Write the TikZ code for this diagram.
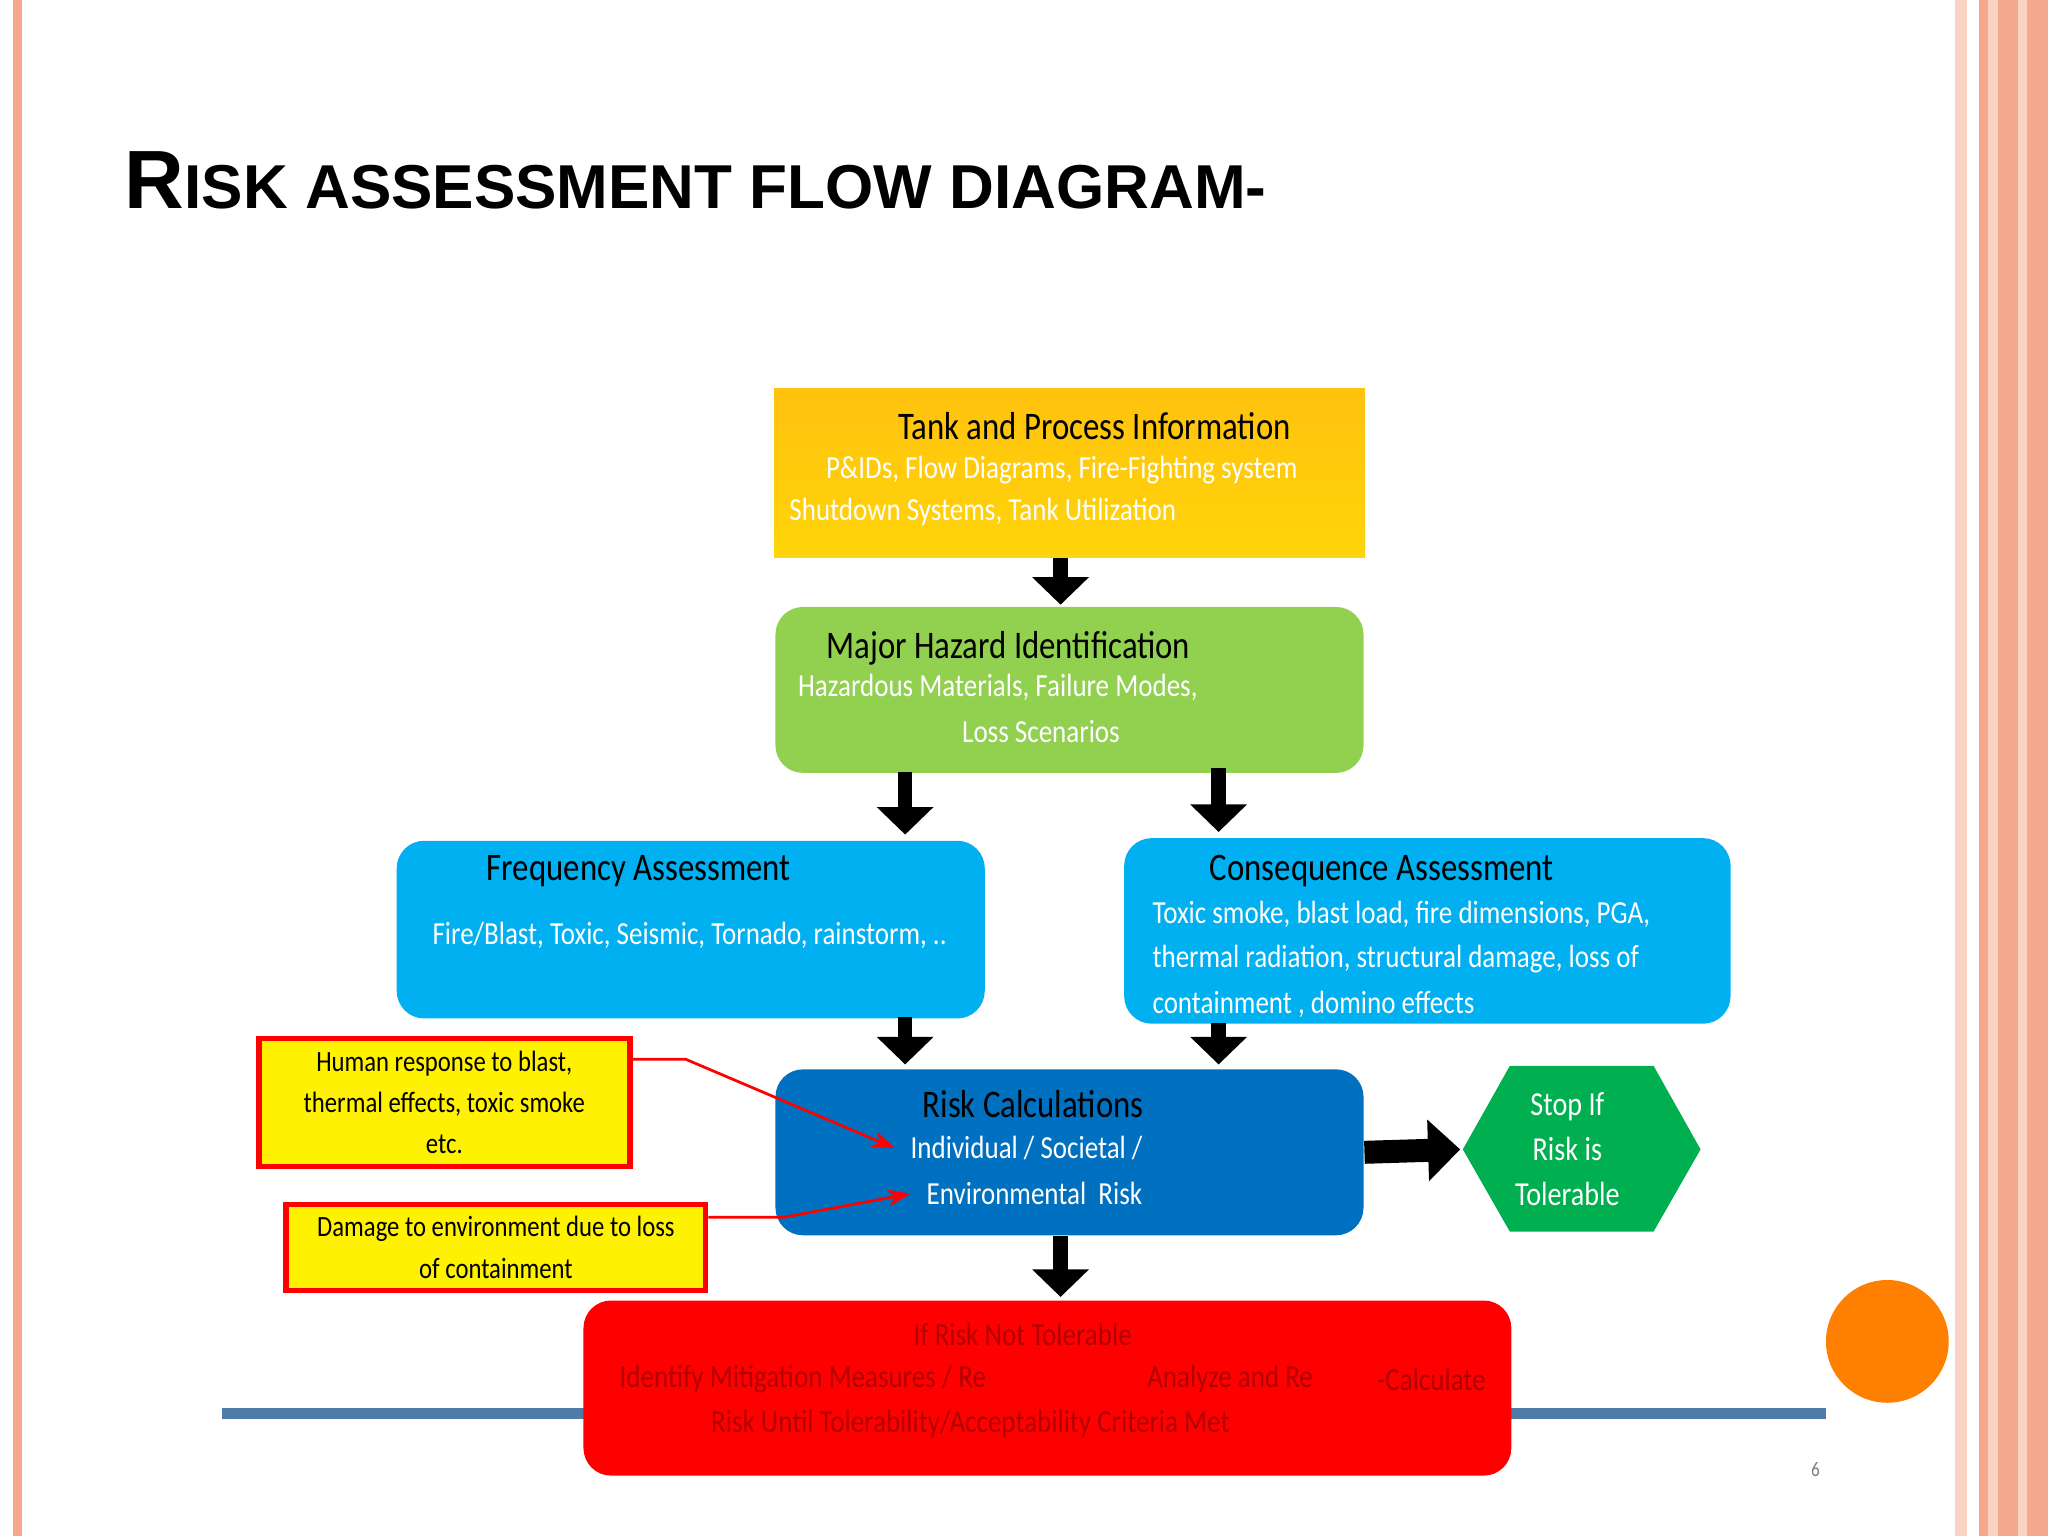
\documentclass[tikz,border=0pt]{standalone}
\usepackage{fontspec}
\setmainfont{Carlito}[FakeStretch=0.84]
\newfontfamily\titlefont{Liberation Sans}
\usetikzlibrary{arrows.meta,shapes.geometric}
\definecolor{salm}{HTML}{F6A88E}
\definecolor{salmlt}{HTML}{FBD3C4}
\definecolor{tankc}{HTML}{FFC20E}
\definecolor{greenc}{HTML}{92D050}
\definecolor{cyanc}{HTML}{00B0F0}
\definecolor{bluec}{HTML}{0070C0}
\definecolor{hexc}{HTML}{00B050}
\definecolor{redt}{HTML}{B00000}
\definecolor{linec}{HTML}{4F7BA8}
\tikzset{
 box/.style={draw=none,rounded corners=6,inner sep=0},
 ttl/.style={font=\fontsize{8.5}{10}\selectfont,text=black},
 wt/.style={font=\fontsize{7}{9.6}\selectfont,text=white,align=left},
 blk/.style={line width=3.2pt,-{Triangle[width=12pt,length=6pt]}},
 ybox/.style={fill=yellow,draw=red,line width=1.2pt,align=center,inner sep=0,font=\fontsize{6.4}{9}\selectfont},
 rarr/.style={red,line width=0.6pt,-{Stealth[length=5pt]}}
}
\begin{document}
\begin{tikzpicture}[x=0.01cm,y=-0.01cm]
\useasboundingbox (0,0) rectangle (1568,1176);
\fill[white] (0,0) rectangle (1568,1176);
% borders
\fill[salm] (10,0) rectangle (17,1176);
\fill[salmlt] (1497,0) rectangle (1506,1176);
\fill[salm] (1515,0) rectangle (1568,1176);
\fill[salmlt] (1522,0) rectangle (1530,1176);
\fill[salmlt] (1545,0) rectangle (1552,1176);
% title
\node[anchor=base west,inner sep=0] (title) at (95,160) {\titlefont\bfseries\fontsize{18}{20}\selectfont R\fontsize{13.5}{16}\selectfont ISK ASSESSMENT FLOW DIAGRAM-};
% bottom line, circle, page no
\draw[linec,line width=2.4pt] (170,1082) -- (1398,1082);
\fill[orange!75!red!80!yellow] (1445,1027) circle (47);
\node[font=\fontsize{4.5}{5}\selectfont,text=gray] (pg) at (1390,1125) {6};
% boxes
\node[box,rounded corners=0,top color=tankc,bottom color=tankc!70!yellow,minimum width=4.52cm,minimum height=1.29cm,anchor=north west] (tank) at (592,297) {};
\node[ttl] at (838,326) {Tank and Process Information};
\node[wt,anchor=west] at (620,360) {P\&IDs, Flow Diagrams, Fire-Fighting system};
\node[wt,anchor=west] at (592,392) {Shutdown Systems, Tank Utilization};

\node[box,fill=greenc,minimum width=4.5cm,minimum height=1.27cm,anchor=north west] (mh) at (593,464) {};
\node[ttl] at (772,496) {Major Hazard Identification};
\node[wt] at (764,526) {Hazardous Materials, Failure Modes,};
\node[wt] at (797,560) {Loss Scenarios};

\node[box,fill=cyanc,minimum width=4.5cm,minimum height=1.36cm,anchor=north west] (fa) at (303,643) {};
\node[ttl] at (489,667) {Frequency Assessment};
\node[wt] at (528,716) {Fire/Blast, Toxic, Seismic, Tornado, rainstorm, ..};

\node[box,fill=cyanc,minimum width=4.64cm,minimum height=1.42cm,anchor=north west] (ca) at (860,641) {};
\node[ttl] at (1058,667) {Consequence Assessment};
\node[wt,anchor=west] at (870,700) {Toxic smoke, blast load, fire dimensions, PGA,};
\node[wt,anchor=west] at (870,734) {thermal radiation, structural damage, loss of};
\node[wt,anchor=west] at (870,769) {containment , domino effects};

\node[box,fill=bluec,minimum width=4.5cm,minimum height=1.27cm,anchor=north west] (rc) at (593,818) {};
\node[ttl] at (791,845) {Risk Calculations};
\node[wt] (ind) at (786,879) {Individual / Societal /};
\node[wt] (env) at (792,914) {Environmental\ \ Risk};

\fill[hexc] (1120,880) -- (1156,816) -- (1266,816) -- (1302,880) -- (1266,943) -- (1156,943) -- cycle;
\node[wt,align=center,font=\fontsize{7.3}{9.8}\selectfont] (hex) at (1200,880) {Stop If\\Risk is\\Tolerable};
\coordinate (hexw) at (1118,880);

\node[box,fill=red,minimum width=7.1cm,minimum height=1.34cm,anchor=north west] (rn) at (446,995) {};
\node[font=\fontsize{7}{9.6}\selectfont,text=redt] at (783,1022) {If Risk Not Tolerable};
\node[font=\fontsize{7}{9.6}\selectfont,text=redt,anchor=west] at (462,1056) {Identify Mitigation Measures / Re};
\node[font=\fontsize{7}{9.6}\selectfont,text=redt,anchor=west] at (866,1056) {Analyze and Re};
\node[font=\fontsize{7}{9.6}\selectfont,text=redt,anchor=west] at (1042,1056) {-Calculate};
\node[font=\fontsize{7}{9.6}\selectfont,text=redt] at (743,1090) {Risk Until Tolerability/Acceptability Criteria Met};

\node[ybox,minimum width=2.84cm,minimum height=0.98cm,anchor=north west] (y1) at (196,793)
  {Human response to blast,\\thermal effects, toxic smoke\\etc.};
\node[ybox,minimum width=3.21cm,minimum height=0.66cm,anchor=north west] (y2) at (217,920)
  {Damage to environment due to loss\\of containment};

% block arrows
\draw[blk] (tank.south -| 812,0) -- (812,463);
\draw[blk] (693,591) -- (693,639);
\draw[blk] (933,588) -- (933,637);
\draw[blk] (693,779) -- (693,815);
\draw[blk] (933,783) -- (933,815);
\draw[blk] (rc.south -| 812,0) -- (812,993);
\draw[line width=5pt,-{Triangle[width=13pt,length=7pt]}] (rc.east) -- (hexw);
% red arrows
\draw[rarr] (y1.east |- 0,811) -- (525,811) -- (ind.west);
\draw[rarr] (y2.east |- 0,932) -- (600,932) -- (env.west);
\end{tikzpicture}
\end{document}
